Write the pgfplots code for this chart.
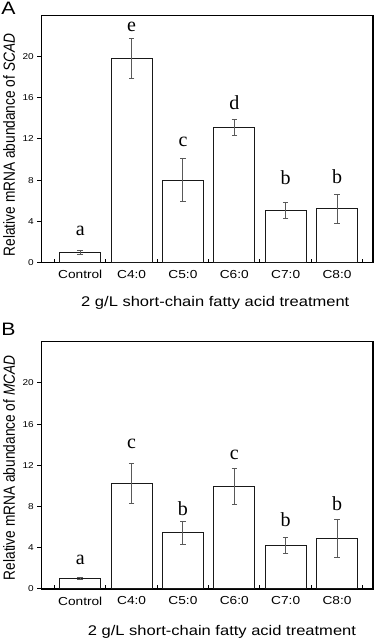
\documentclass[border=0pt]{standalone}
\usepackage{pgfplots}
\pgfplotsset{compat=1.18}
\usepackage{pgfplotstable}
\usepackage{graphicx}
\usepackage{fontspec}
\setmainfont{Liberation Sans}
\newfontfamily\letterfont{Liberation Serif}

\pgfplotstableread{
x y e
0 1.0 0.2
1 19.8 1.9
2 8.0 2.05
3 13.1 0.8
4 5.05 0.75
5 5.2 1.45
}\dataA
\pgfplotstableread{
x y e
0 1.0 0.08
1 10.24 1.98
2 5.44 1.1
3 9.9 1.75
4 4.17 0.78
5 4.86 1.85
}\dataB

\newcommand\hs[1]{\scalebox{1.18}[1]{#1}}
\newcommand\vs[1]{\scalebox{1}[1.18]{#1}}
\newcommand\lt[1]{{\letterfont\fontsize{20bp}{20bp}\selectfont #1}}

\pgfplotsset{panel/.style={
  scale only axis, width=331.3bp, height=247.2bp,
  anchor=north west, clip=false,
  xmin=-0.75, xmax=5.7, ymin=0, ymax=24,
  axis line style={line width=1.4bp, black},
  xtick={0,...,5},
  xticklabels={\hs{Control},\hs{C4:0},\hs{C5:0},\hs{C6:0},\hs{C7:0},\hs{C8:0}},
  major x tick style={draw=none},
  minor xtick={-0.5,0.5,...,5.5},
  minor x tick style={line width=1bp, black},
  minor tick length=4bp,
  xtick align=inside,
  ytick={0,4,...,20},
  yticklabels={\hs{0},\hs{4},\hs{8},\hs{12},\hs{16},\hs{20}},
  ytick align=outside,
  major tick length=4.5bp,
  tick pos=left,
  y tick style={line width=1bp, black},
  xticklabel style={font=\fontsize{11.6bp}{12bp}\selectfont, yshift=-4.4bp},
  yticklabel style={font=\fontsize{8.5bp}{9bp}\selectfont},
  xlabel style={font=\fontsize{14bp}{15bp}\selectfont, anchor=center},
  ylabel style={font=\fontsize{13.7bp}{14bp}\selectfont, anchor=center},
}}
\pgfplotsset{barplot/.style={
  ybar, bar width=0.8, fill=white, draw=black!90, line width=1bp,
  error bars/.cd, y dir=both, y explicit,
  error bar style={draw=black!65, line width=1bp},
  error mark=-, error mark options={rotate=90, draw=black!65, line width=1bp, mark size=2.8bp},
}}

\begin{document}
\begin{tikzpicture}
\path[use as bounding box] (0,0) rectangle (378bp,-640bp);

\node[font=\fontsize{18bp}{18bp}\selectfont] at (8.5bp,-8.5bp) {\hs{A}};
\node[font=\fontsize{18bp}{18bp}\selectfont] at (8.5bp,-329.5bp) {\hs{B}};

\begin{axis}[panel, at={(41.7bp,-15.3bp)},
  xlabel={\hs{2 g/L short-chain fatty acid treatment}},
  xlabel style={at={(axis description cs:0.524,-0.1638)}},
  ylabel={\vs{Relative mRNA abundance of \textit{SCAD}}},
  ylabel style={at={(axis description cs:-0.0987,0.475)}},
]
\addplot[barplot] table[x=x, y=y, y error=e] {\dataA};
\node at (axis cs:0,3.1) {\lt{a}};
\node at (axis cs:1,22.9) {\lt{e}};
\node at (axis cs:2,11.7) {\lt{c}};
\node at (axis cs:3,15.5) {\lt{d}};
\node at (axis cs:4,8.2) {\lt{b}};
\node at (axis cs:5,8.3) {\lt{b}};
\end{axis}

\begin{axis}[panel, at={(41.7bp,-341.7bp)},
  xlabel={\hs{2 g/L short-chain fatty acid treatment}},
  xlabel style={at={(axis description cs:0.544,-0.174)}},
  ylabel={\vs{Relative mRNA abundance of \textit{MCAD}}},
  ylabel style={at={(axis description cs:-0.0987,0.49)}},
]
\addplot[barplot] table[x=x, y=y, y error=e] {\dataB};
\node at (axis cs:0,2.83) {\lt{a}};
\node at (axis cs:1,14.1) {\lt{c}};
\node at (axis cs:2,7.83) {\lt{b}};
\node at (axis cs:3,13.0) {\lt{c}};
\node at (axis cs:4,6.73) {\lt{b}};
\node at (axis cs:5,8.3) {\lt{b}};
\end{axis}
\end{tikzpicture}
\end{document}
